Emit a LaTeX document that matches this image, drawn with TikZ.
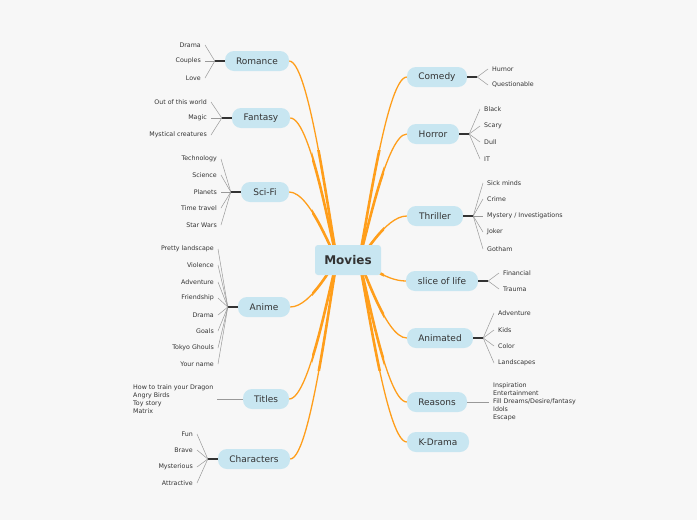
\documentclass[tikz,border=0pt]{standalone}
\usepackage{fontspec}
\setmainfont{DejaVu Sans}
\usetikzlibrary{backgrounds,calc}
\definecolor{nodebg}{HTML}{C8E6F1}
\definecolor{br}{HTML}{FF9E1B}
\definecolor{txt}{HTML}{333333}
\tikzset{
  topic/.style={fill=nodebg,rounded corners=9pt,minimum height=20pt,inner sep=0pt,font=\fontsize{9}{9}\selectfont,text=txt},
  leaf/.style={font=\fontsize{6.3}{7.5}\selectfont,text=txt,inner sep=0pt},
  fan/.style={draw=gray!80,line width=0.5pt},
  stem/.style={draw=black!80,line width=1.2pt},
  conn/.style={draw=br,line width=1.3pt},
}
\newcommand{\lfan}[3]{% node, x of text right, list y/text
  \coordinate (#1j) at ([xshift=-10pt]#1.west);
  \draw[stem] (#1.west) -- (#1j);
  \foreach \yy/\tt in {#3}{
    \coordinate (#1e) at (#2+4,\yy);
    \draw[fan] (#1j) -- (#1e);
    \node[leaf,anchor=east] at (#2,\yy) {\tt};
  }}
\newcommand{\rfan}[3]{%
  \coordinate (#1j) at ([xshift=10pt]#1.east);
  \draw[stem] (#1.east) -- (#1j);
  \foreach \yy/\tt in {#3}{
    \coordinate (#1e) at (#2-4,\yy);
    \draw[fan] (#1j) -- (#1e);
    \node[leaf,anchor=west] at (#2,\yy) {\tt};
  }}
\begin{document}
\begin{tikzpicture}[x=1pt,y=-1pt]
\useasboundingbox (0,0) rectangle (697,520);
\node[fill=nodebg,rounded corners=3pt,minimum width=66pt,minimum height=30pt,font=\fontsize{12}{12}\selectfont\bfseries,text=black!80] (mv) at (348,260) {Movies};
\node[topic,minimum width=64pt] (rom) at (257,61) {Romance};
\node[topic,minimum width=58pt] (fan) at (261,118) {Fantasy};
\node[topic,minimum width=48pt] (sci) at (265,192) {Sci-Fi};
\node[topic,minimum width=52pt] (ani) at (264,307) {Anime};
\node[topic,minimum width=46pt] (tit) at (266,399) {Titles};
\node[topic,minimum width=72pt] (cha) at (254,459) {Characters};
\node[topic,minimum width=60pt] (com) at (437,77) {Comedy};
\node[topic,minimum width=52pt] (hor) at (433,134) {Horror};
\node[topic,minimum width=56pt] (thr) at (435,216) {Thriller};
\node[topic,minimum width=72pt] (sol) at (442,281) {slice of life};
\node[topic,minimum width=66pt] (anm) at (440,338) {Animated};
\node[topic,minimum width=60pt] (rea) at (437,402) {Reasons};
\node[topic,minimum width=62pt] (kdr) at (438,442) {K-Drama};
\begin{pgfonlayer}{background}
\fill[white!97!black] (0,0) rectangle (697,520);
\foreach \n in {rom,fan,sci,ani,tit,cha}{
  \draw[conn] (\n.east) .. controls +(22,0) and ($(mv.center)+(-14,0)$) .. ([xshift=-10pt]mv.center);
}
\foreach \n in {com,hor,thr,sol,anm,rea,kdr}{
  \draw[conn] (\n.west) .. controls +(-22,0) and ($(mv.center)+(14,0)$) .. ([xshift=10pt]mv.center);
}
\begin{scope}
\clip (312,150) rectangle (384,370);
\foreach \n in {rom,fan,sci,ani,tit,cha}{
  \draw[conn,line width=2.6pt] (\n.east) .. controls +(22,0) and ($(mv.center)+(-14,0)$) .. ([xshift=-10pt]mv.center);
}
\foreach \n in {com,hor,thr,sol,anm,rea,kdr}{
  \draw[conn,line width=2.6pt] (\n.west) .. controls +(-22,0) and ($(mv.center)+(14,0)$) .. ([xshift=10pt]mv.center);
}
\end{scope}
\end{pgfonlayer}
\lfan{rom}{201}{45/Drama,61/Couples,78/Love}
\lfan{fan}{207}{102/Out of this world,118/Magic,135/Mystical creatures}
\lfan{sci}{217}{159/Technology,175/Science,192/Planets,208/Time travel,225/Star Wars}
\lfan{ani}{214}{249/Pretty landscape,265/Violence,282/Adventure,298/Friendship,315/Drama,331/Goals,348/Tokyo Ghouls,364/Your name}
\lfan{cha}{193}{434/Fun,450/Brave,467/Mysterious,483/Attractive}
\rfan{com}{492}{69/Humor,85/Questionable}
\rfan{hor}{484}{109/Black,126/Scary,142/Dull,159/IT}
\rfan{thr}{487}{183/Sick minds,199/Crime,216/{Mystery / Investigations},232/Joker,249/Gotham}
\rfan{sol}{503}{273/Financial,289/Trauma}
\rfan{anm}{498}{313/Adventure,330/Kids,346/Color,363/Landscapes}
\node[leaf,anchor=west,align=left,font=\fontsize{6.3}{8}\selectfont] (tt) at (133,399) {How to train your Dragon\\Angry Birds\\Toy story\\Matrix};
\draw[fan] (tit.west) -- ([xshift=4pt]tt.east);
\node[leaf,anchor=west,align=left,font=\fontsize{6.3}{8}\selectfont] (rt) at (493,402) {Inspiration\\Entertainment\\Fill Dreams/Desire/fantasy\\Idols\\Escape};
\draw[fan] (rea.east) -- ([xshift=-4pt]rt.west);
\end{tikzpicture}
\end{document}
